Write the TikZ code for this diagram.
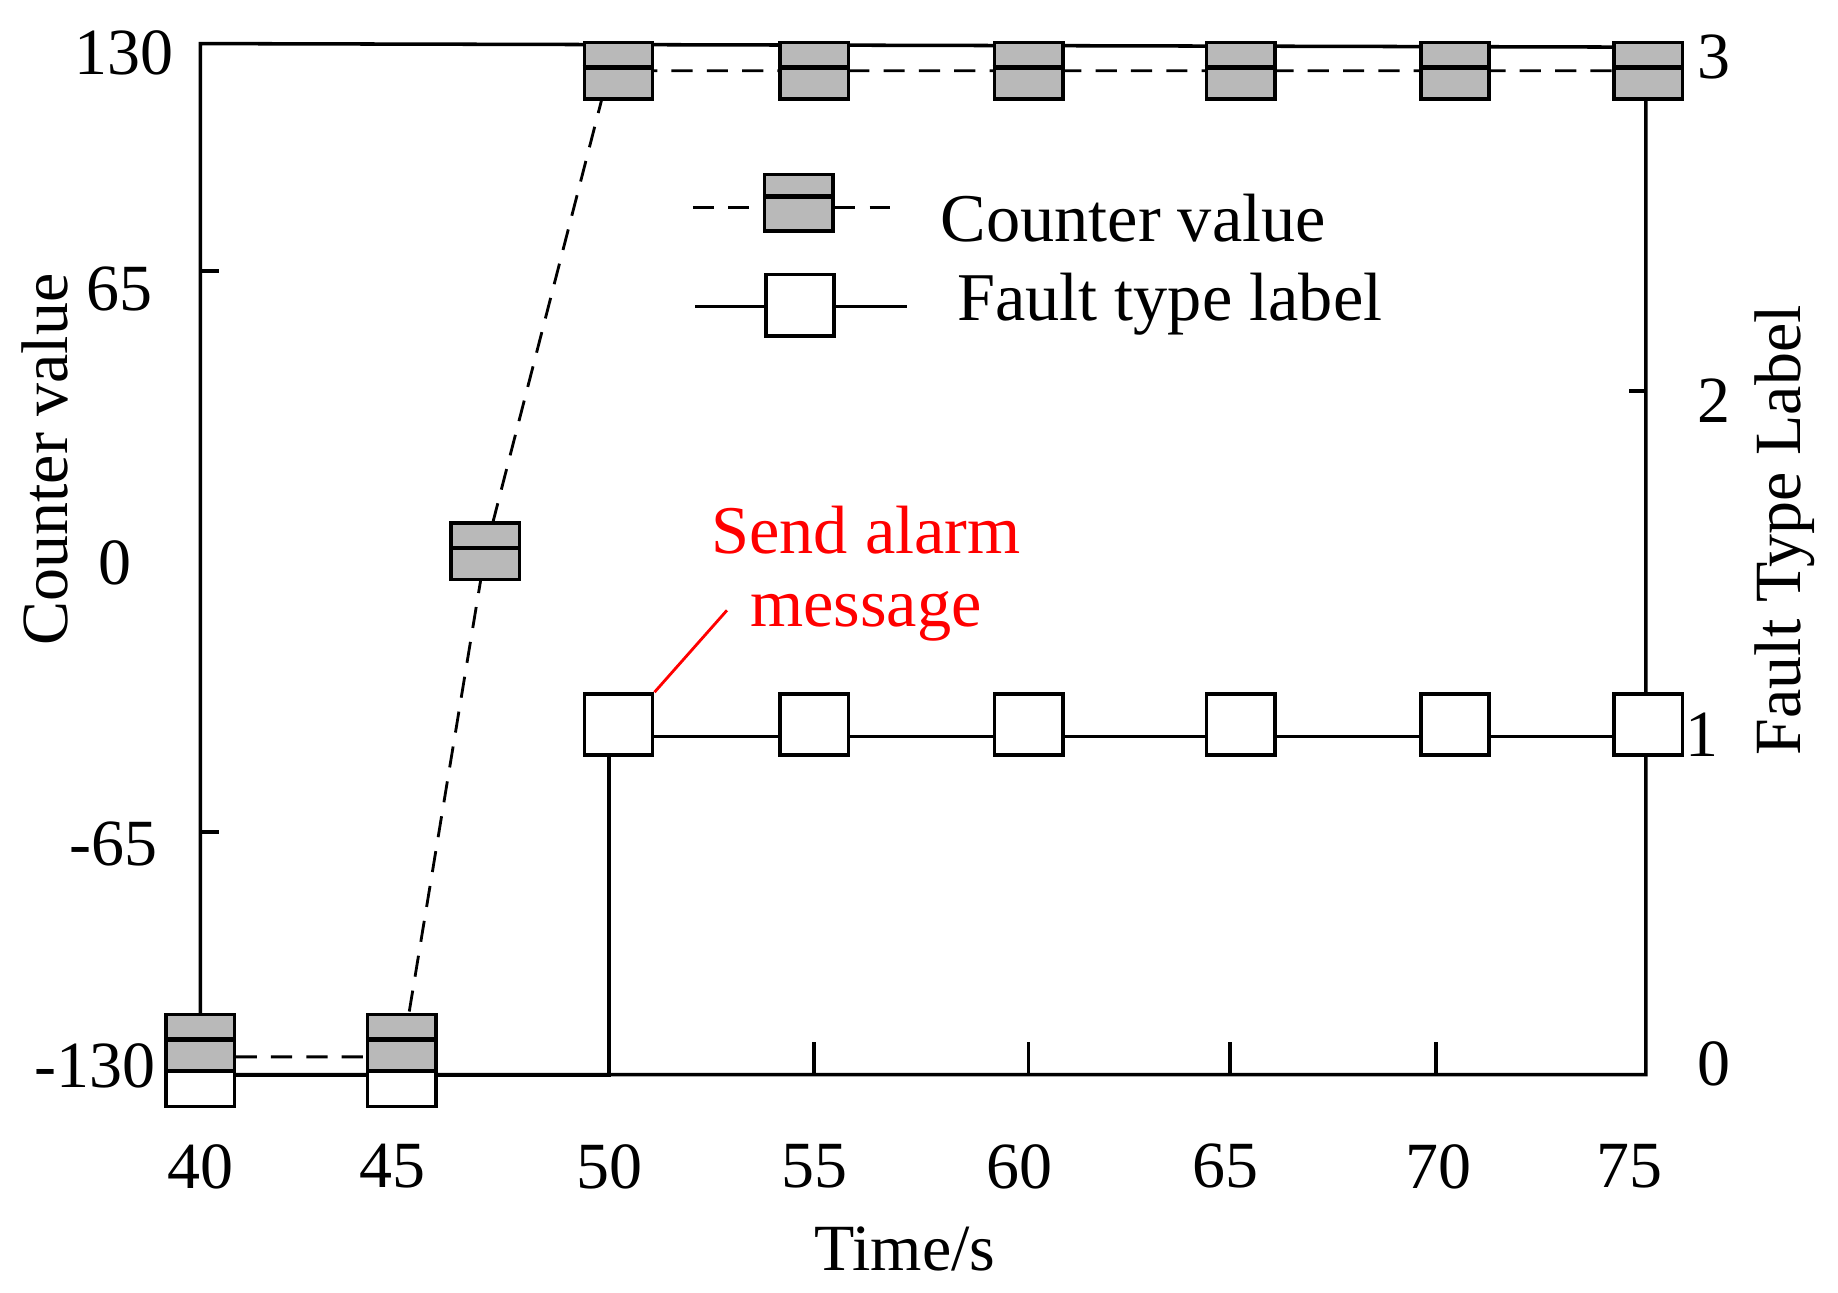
\documentclass[tikz,border=0pt]{standalone}
\usepackage{fontspec}
\setmainfont{Liberation Serif}
\begin{document}
\begin{tikzpicture}[x=0.5pt,y=-0.5pt,
  lbl/.style={font=\fontsize{28}{30}\selectfont, inner sep=0pt},
  gsq/.style={draw=black, line width=1.5pt, fill=gray!55, minimum width=29pt, minimum height=24pt, inner sep=0pt},
  wsq/.style={draw=black, line width=1.5pt, fill=white, minimum width=29pt, minimum height=26pt, inner sep=0pt},
  ax/.style={line width=1.5pt},
  dsh/.style={line width=1.2pt, dash pattern=on 9pt off 6pt}]
\useasboundingbox (0,0) rectangle (1560,1097);
% axes
\draw[ax] (170,912) -- (170,37) -- (1397,40) -- (1397,912) -- cycle;
\foreach \y in {230,706} \draw[ax] (170,\y) -- (186,\y);
\draw[ax] (1397,332) -- (1383,332);
\foreach \x in {691,873,1044,1219} \draw[ax] (\x,912) -- (\x,884);
% tick labels
\node[lbl, anchor=east] (l130) at (148,45) {130};
\node[lbl, anchor=east] (l65) at (130,245) {65};
\node[lbl, anchor=east] (l0) at (112,478) {0};
\node[lbl, anchor=east] (lm65) at (134,716) {-65};
\node[lbl, anchor=east] (lm130) at (132,905) {-130};
\node[lbl, anchor=west] (r3) at (1440,48) {3};
\node[lbl, anchor=west] (r2) at (1440,340) {2};
\node[lbl, anchor=west] (r1) at (1430,624) {1};
\node[lbl, anchor=west] (r0) at (1440,903) {0};
\foreach \x/\t in {170/40,333/45,517/50,691/55,865/60,1040/65,1221/70,1383/75}
  \node[lbl] at (\x,990) {\t};
\node[lbl] (xl) at (768,1060) {Time/s};
\node[lbl, rotate=90] (yl) at (38,390) {Counter value};
\node[lbl, rotate=90] (yr) at (1515,450) {Fault Type Label};
% fault series
\coordinate (f0) at (170,913);
\coordinate (fc) at (517,913);
\coordinate (fu) at (517,625);
\draw[ax] (f0) -- (fc) -- (fu) -- (1399,625);
\foreach \x [count=\i] in {170,341} \node[wsq] (fw\i) at (\x,913) {};
\foreach \x [count=\i] in {525,691,873,1053,1235,1399} \node[wsq] (fa\i) at (\x,615) {};
% counter series
\draw[dsh] (170,897) -- (341,897) -- (412,468) -- (517,60) -- (1399,60);
\foreach \x/\y [count=\i] in {170/885,341/885,412/468,525/60,691/60,873/60,1053/60,1235/60,1399/60} {
  \node[gsq] (g\i) at (\x,\y) {};
  \draw[line width=2pt] (g\i.west) ++(0,-3) -- ++(58,0);
}
% legend
\draw[dsh] (588,176) -- (755,176);
\node[gsq, minimum height=24pt] (lg) at (678,172) {};
\draw[line width=2pt] (649,167) -- (707,167);
\node[lbl, anchor=west, font=\fontsize{29}{30}\selectfont] (lgt) at (798,185) {Counter value};
\draw[ax] (590,260) -- (770,260);
\node[wsq] (lw) at (679,259) {};
\node[lbl, anchor=west, font=\fontsize{29}{30}\selectfont] (lwt) at (812,258) {Fault type label};
% annotation
\node[lbl, red, font=\fontsize{29}{30}\selectfont] (s1) at (735,450) {Send alarm};
\node[lbl, red, font=\fontsize{29}{30}\selectfont] (s2) at (735,523) {message};
\coordinate (sa) at (617,518);
\draw[red, line width=1.2pt] (sa) -- (fa1.north east) ++(0,0);
\end{tikzpicture}
\end{document}
